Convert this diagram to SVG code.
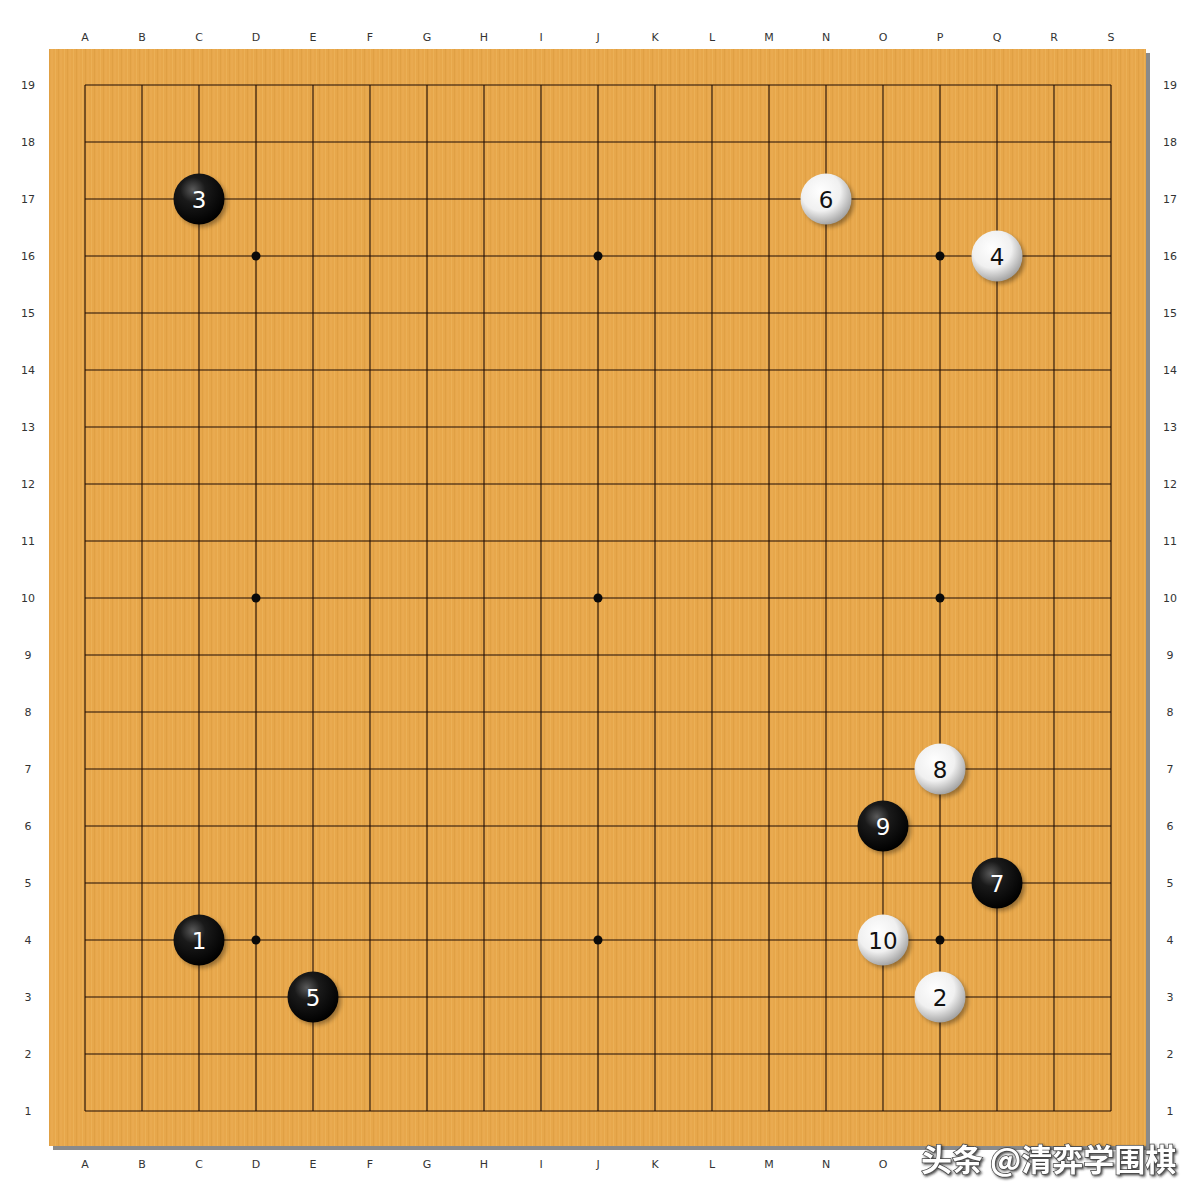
<svg xmlns="http://www.w3.org/2000/svg" width="1200" height="1200" viewBox="0 0 1200 1200">
<defs>
<style>
.lbl{font-family:"DejaVu Sans","Liberation Sans",sans-serif;font-size:11px;fill:#333;text-anchor:middle;dominant-baseline:central}
.grid line{stroke:#1e0c04;stroke-width:1.1}
.star{fill:#0a0a0a}
.num{font-family:"DejaVu Sans","Liberation Sans",sans-serif;font-size:23px;text-anchor:middle;dominant-baseline:central}
.bn{fill:#fff}
.wn{fill:#111}
.wm{font-family:"Noto Sans CJK SC",sans-serif;font-size:31px;font-weight:bold;fill:#fff;stroke:#444;stroke-width:1.4;paint-order:stroke}
</style>
<pattern id="wood" width="9" height="20" patternUnits="userSpaceOnUse">
<rect width="9" height="20" fill="#E7A74B"/>
<rect x="1" width="1" height="20" fill="#EDB45C" opacity="0.7"/>
<rect x="4" width="1" height="20" fill="#DC9B40" opacity="0.6"/>
<rect x="6" width="2" height="20" fill="#EBAE55" opacity="0.5"/>
</pattern>
<radialGradient id="gb" cx="0.38" cy="0.32" r="0.7">
<stop offset="0" stop-color="#5a5a5a"/>
<stop offset="0.35" stop-color="#1a1a1a"/>
<stop offset="1" stop-color="#000"/>
</radialGradient>
<radialGradient id="gw" cx="0.4" cy="0.35" r="0.7">
<stop offset="0" stop-color="#fff"/>
<stop offset="0.55" stop-color="#f0f0f0"/>
<stop offset="1" stop-color="#9a9a9a"/>
</radialGradient>
<filter id="sh" x="-30%" y="-30%" width="160%" height="160%">
<feGaussianBlur stdDeviation="2"/>
</filter>
<filter id="wmsh" x="-5%" y="-20%" width="110%" height="140%">
<feDropShadow dx="1.5" dy="1.5" stdDeviation="1" flood-color="#222" flood-opacity="0.8"/>
</filter>
</defs>
<rect width="1200" height="1200" fill="#fff"/>
<g id="board">
<rect x="53" y="53" width="1097" height="1097" fill="#8a8a8a"/>
<rect x="49" y="49" width="1097" height="1097" fill="url(#wood)"/>
</g>
<g id="grid" class="grid">
<line x1="85" y1="85" x2="1111" y2="85"/><line x1="85" y1="142" x2="1111" y2="142"/><line x1="85" y1="199" x2="1111" y2="199"/><line x1="85" y1="256" x2="1111" y2="256"/><line x1="85" y1="313" x2="1111" y2="313"/><line x1="85" y1="370" x2="1111" y2="370"/><line x1="85" y1="427" x2="1111" y2="427"/><line x1="85" y1="484" x2="1111" y2="484"/><line x1="85" y1="541" x2="1111" y2="541"/><line x1="85" y1="598" x2="1111" y2="598"/><line x1="85" y1="655" x2="1111" y2="655"/><line x1="85" y1="712" x2="1111" y2="712"/><line x1="85" y1="769" x2="1111" y2="769"/><line x1="85" y1="826" x2="1111" y2="826"/><line x1="85" y1="883" x2="1111" y2="883"/><line x1="85" y1="940" x2="1111" y2="940"/><line x1="85" y1="997" x2="1111" y2="997"/><line x1="85" y1="1054" x2="1111" y2="1054"/><line x1="85" y1="1111" x2="1111" y2="1111"/>
<line x1="85" y1="85" x2="85" y2="1111"/><line x1="142" y1="85" x2="142" y2="1111"/><line x1="199" y1="85" x2="199" y2="1111"/><line x1="256" y1="85" x2="256" y2="1111"/><line x1="313" y1="85" x2="313" y2="1111"/><line x1="370" y1="85" x2="370" y2="1111"/><line x1="427" y1="85" x2="427" y2="1111"/><line x1="484" y1="85" x2="484" y2="1111"/><line x1="541" y1="85" x2="541" y2="1111"/><line x1="598" y1="85" x2="598" y2="1111"/><line x1="655" y1="85" x2="655" y2="1111"/><line x1="712" y1="85" x2="712" y2="1111"/><line x1="769" y1="85" x2="769" y2="1111"/><line x1="826" y1="85" x2="826" y2="1111"/><line x1="883" y1="85" x2="883" y2="1111"/><line x1="940" y1="85" x2="940" y2="1111"/><line x1="997" y1="85" x2="997" y2="1111"/><line x1="1054" y1="85" x2="1054" y2="1111"/><line x1="1111" y1="85" x2="1111" y2="1111"/>
</g>
<g id="stars" class="star">
<circle cx="256" cy="256" r="4.5"/><circle cx="598" cy="256" r="4.5"/><circle cx="940" cy="256" r="4.5"/>
<circle cx="256" cy="598" r="4.5"/><circle cx="598" cy="598" r="4.5"/><circle cx="940" cy="598" r="4.5"/>
<circle cx="256" cy="940" r="4.5"/><circle cx="598" cy="940" r="4.5"/><circle cx="940" cy="940" r="4.5"/>
</g>
<g id="labels" class="lbl">
<text x="85" y="37">A</text><text x="142" y="37">B</text><text x="199" y="37">C</text><text x="256" y="37">D</text><text x="313" y="37">E</text><text x="370" y="37">F</text><text x="427" y="37">G</text><text x="484" y="37">H</text><text x="541" y="37">I</text><text x="598" y="37">J</text><text x="655" y="37">K</text><text x="712" y="37">L</text><text x="769" y="37">M</text><text x="826" y="37">N</text><text x="883" y="37">O</text><text x="940" y="37">P</text><text x="997" y="37">Q</text><text x="1054" y="37">R</text><text x="1111" y="37">S</text>
<text x="85" y="1164">A</text><text x="142" y="1164">B</text><text x="199" y="1164">C</text><text x="256" y="1164">D</text><text x="313" y="1164">E</text><text x="370" y="1164">F</text><text x="427" y="1164">G</text><text x="484" y="1164">H</text><text x="541" y="1164">I</text><text x="598" y="1164">J</text><text x="655" y="1164">K</text><text x="712" y="1164">L</text><text x="769" y="1164">M</text><text x="826" y="1164">N</text><text x="883" y="1164">O</text>
<text x="28" y="85">19</text><text x="28" y="142">18</text><text x="28" y="199">17</text><text x="28" y="256">16</text><text x="28" y="313">15</text><text x="28" y="370">14</text><text x="28" y="427">13</text><text x="28" y="484">12</text><text x="28" y="541">11</text><text x="28" y="598">10</text><text x="28" y="655">9</text><text x="28" y="712">8</text><text x="28" y="769">7</text><text x="28" y="826">6</text><text x="28" y="883">5</text><text x="28" y="940">4</text><text x="28" y="997">3</text><text x="28" y="1054">2</text><text x="28" y="1111">1</text>
<text x="1170" y="85">19</text><text x="1170" y="142">18</text><text x="1170" y="199">17</text><text x="1170" y="256">16</text><text x="1170" y="313">15</text><text x="1170" y="370">14</text><text x="1170" y="427">13</text><text x="1170" y="484">12</text><text x="1170" y="541">11</text><text x="1170" y="598">10</text><text x="1170" y="655">9</text><text x="1170" y="712">8</text><text x="1170" y="769">7</text><text x="1170" y="826">6</text><text x="1170" y="883">5</text><text x="1170" y="940">4</text><text x="1170" y="997">3</text><text x="1170" y="1054">2</text><text x="1170" y="1111">1</text>
</g>
<g id="stone-1"><circle cx="202" cy="943" r="25" fill="#000" opacity="0.35" filter="url(#sh)"/><circle cx="199" cy="940" r="25.5" fill="url(#gb)"/><text class="num bn" x="199" y="941">1</text></g>
<g id="stone-2"><circle cx="943" cy="1000" r="25" fill="#000" opacity="0.35" filter="url(#sh)"/><circle cx="940" cy="997" r="25.5" fill="url(#gw)"/><text class="num wn" x="940" y="998">2</text></g>
<g id="stone-3"><circle cx="202" cy="202" r="25" fill="#000" opacity="0.35" filter="url(#sh)"/><circle cx="199" cy="199" r="25.5" fill="url(#gb)"/><text class="num bn" x="199" y="200">3</text></g>
<g id="stone-4"><circle cx="1000" cy="259" r="25" fill="#000" opacity="0.35" filter="url(#sh)"/><circle cx="997" cy="256" r="25.5" fill="url(#gw)"/><text class="num wn" x="997" y="257">4</text></g>
<g id="stone-5"><circle cx="316" cy="1000" r="25" fill="#000" opacity="0.35" filter="url(#sh)"/><circle cx="313" cy="997" r="25.5" fill="url(#gb)"/><text class="num bn" x="313" y="998">5</text></g>
<g id="stone-6"><circle cx="829" cy="202" r="25" fill="#000" opacity="0.35" filter="url(#sh)"/><circle cx="826" cy="199" r="25.5" fill="url(#gw)"/><text class="num wn" x="826" y="200">6</text></g>
<g id="stone-7"><circle cx="1000" cy="886" r="25" fill="#000" opacity="0.35" filter="url(#sh)"/><circle cx="997" cy="883" r="25.5" fill="url(#gb)"/><text class="num bn" x="997" y="884">7</text></g>
<g id="stone-8"><circle cx="943" cy="772" r="25" fill="#000" opacity="0.35" filter="url(#sh)"/><circle cx="940" cy="769" r="25.5" fill="url(#gw)"/><text class="num wn" x="940" y="770">8</text></g>
<g id="stone-9"><circle cx="886" cy="829" r="25" fill="#000" opacity="0.35" filter="url(#sh)"/><circle cx="883" cy="826" r="25.5" fill="url(#gb)"/><text class="num bn" x="883" y="827">9</text></g>
<g id="stone-10"><circle cx="886" cy="943" r="25" fill="#000" opacity="0.35" filter="url(#sh)"/><circle cx="883" cy="940" r="25.5" fill="url(#gw)"/><text class="num wn" x="883" y="941">10</text></g>
<text class="wm" x="921" y="1171" filter="url(#wmsh)">头条 @清弈学围棋</text>
</svg>
